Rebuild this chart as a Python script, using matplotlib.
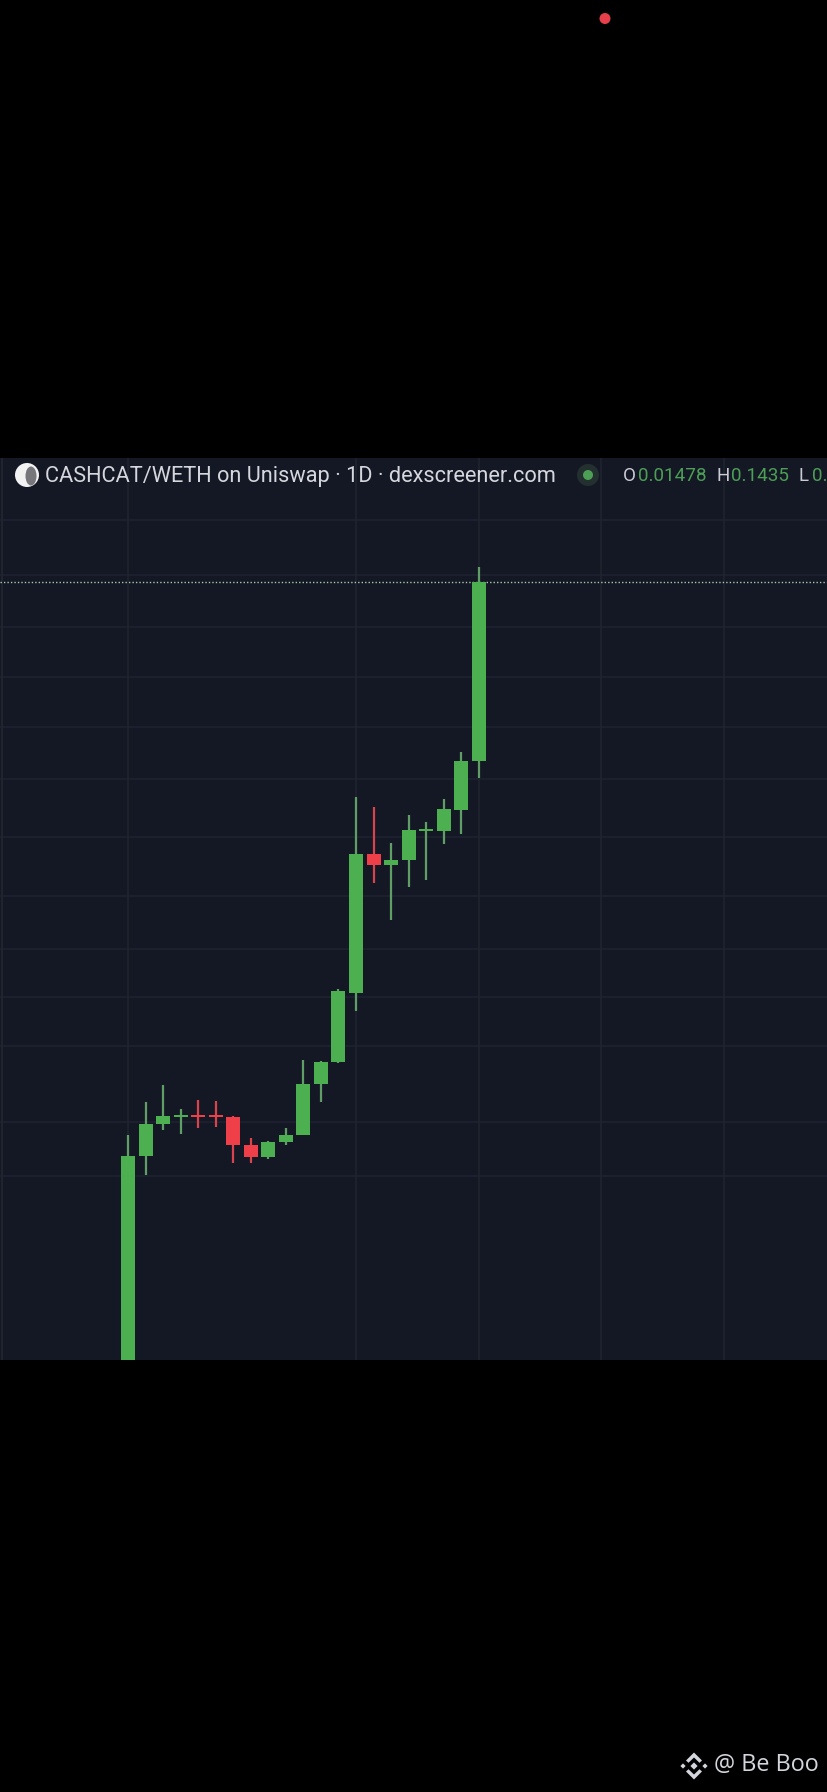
import matplotlib
matplotlib.use("Agg")
from matplotlib import pyplot as plt
from matplotlib.patches import Circle, Polygon, Ellipse

# daily candles (first bar opens below the visible range)
days = list(range(21))
opens = [8.24e-6, 1.438e-4, 2.085e-4, 2.260e-4, 2.330e-4, 2.325e-4, 2.279e-4, 1.636e-4, 1.421e-4, 1.695e-4,
         1.840e-4, 3.344e-4, 4.327e-4, 9.758e-4, 4.968e-3, 4.352e-3, 4.615e-3, 6.480e-3, 6.505e-3, 8.320e-3, 0.01478]
closes = [1.443e-4, 2.092e-4, 2.298e-4, 2.320e-4, 2.265e-4, 2.260e-4, 1.630e-4, 1.421e-4, 1.701e-4, 1.846e-4,
          3.344e-4, 4.327e-4, 9.943e-4, 4.968e-3, 4.352e-3, 4.615e-3, 6.559e-3, 6.675e-3, 8.387e-3, 0.01478, 0.1200]
highs = [1.840e-4, 2.717e-4, 3.305e-4, 2.495e-4, 2.772e-4, 2.749e-4, 2.298e-4, 1.782e-4, 1.715e-4, 1.997e-4,
         4.430e-4, 4.393e-4, 1.018e-3, 9.655e-3, 8.618e-3, 5.632e-3, 7.847e-3, 7.204e-3, 9.432e-3, 0.01636, 0.1435]
lows = [7.0e-6, 1.151e-4, 1.950e-4, 1.868e-4, 2.004e-4, 2.027e-4, 1.330e-4, 1.325e-4, 1.388e-4, 1.636e-4,
        1.829e-4, 2.717e-4, 4.30e-4, 7.865e-4, 3.524e-3, 2.285e-3, 3.363e-3, 3.651e-3, 5.567e-3, 6.282e-3, 0.01211]

price_grid = [0.248, 0.1302, 0.0708, 0.0394, 0.02193, 0.01192, 0.00604, 0.003028, 0.001626,
              9.27e-4, 5.22e-4, 2.142e-4, 1.138e-4]
day_grid = [0, 13, 20, 27, 34]
last_close = 0.12

title = "CASHCAT/WETH on Uniswap · 1D · dexscreener.com"
ohlc_labels = ["O", "H", "L"]
ohlc_values = ["0.01478", "0.1435", "0."]

green = "#4caf50"
red = "#ef3f48"
bg = "#141825"
W, H = 828, 1792

fig = plt.figure(figsize=(W / 100, H / 100), dpi=100, facecolor="black")
ax = fig.add_axes([0, (H - 1360) / H, 1, (1360 - 458) / H], facecolor=bg)
ax.set_yscale("log")
ax.set_xlim(-7.32, 39.94)
ax.set_ylim(1.317e-5, 0.5129)
for s in ax.spines.values():
    s.set_visible(False)
ax.tick_params(which="both", left=False, bottom=False, labelleft=False, labelbottom=False)

ax.hlines(price_grid, -8, 41, color="#1f2331", lw=1.1, zorder=1)
ax.vlines(day_grid, 1e-6, 1, color="#20242f", lw=1.1, zorder=1)
ax.vlines(-7.2, 1e-6, 1, color="#20242f", lw=1.5, zorder=1)
ax.axhline(last_close, color="#a9c9ad", lw=1, ls=(0, (1, 1.5)), zorder=2)

colors = [green if c >= o else red for o, c in zip(opens, closes)]
wick_colors = ["#5f9f65" if c == green else "#d8434c" for c in colors]
ax.vlines(days, lows, highs, color=wick_colors, lw=1.6, zorder=3)
ax.bar(days, [c - o for o, c in zip(opens, closes)], bottom=opens, width=0.8, color=colors, zorder=4)

# overlay in picture pixels for the header, dot and watermark
ov = fig.add_axes([0, 0, 1, 1], facecolor="none")
ov.set_xlim(0, W)
ov.set_ylim(H, 0)
ov.axis("off")

ov.add_patch(Circle((605, 18.5), 5.5, color="#e8404a", lw=0))

# avatar
ov.add_patch(Circle((27, 475), 12, color="#f2f2f2", lw=0))
ov.add_patch(Ellipse((31, 476), 11, 19, color="#77777b", lw=0))

font = "Roboto"
ov.text(45, 476.5, title, color="#d5d7dc", fontsize=15.65, family=font, va="center", ha="left")

ov.add_patch(Circle((588, 475), 11, color="#23302f", lw=0))
ov.add_patch(Circle((588, 475), 5, color="#4c9f55", lw=0))

for lx, vx, lab, val in zip([623, 717, 799], [638, 731, 812], ohlc_labels, ohlc_values):
    ov.text(lx, 476, lab, color="#c9ccd3", fontsize=13.6, family=font, va="center", ha="left")
    ov.text(vx, 476, val, color="#4c9f55", fontsize=13.6, family=font, va="center", ha="left")

# watermark
cx, cy = 694, 1766
mark = "#d3d6dc"
for dx, r in [(0, 3.6), (-11, 2.6), (11, 2.6)]:
    ov.add_patch(Polygon([(cx + dx - r, cy), (cx + dx, cy - r), (cx + dx + r, cy), (cx + dx, cy + r)], color=mark, lw=0))
for sgn in [-1, 1]:
    ov.add_patch(Polygon([(cx - 8, cy + sgn * 5.5), (cx, cy + sgn * 13.5), (cx + 8, cy + sgn * 5.5),
                          (cx + 5.5, cy + sgn * 3.2), (cx, cy + sgn * 8.5), (cx - 5.5, cy + sgn * 3.2)],
                         color=mark, lw=0))
ov.text(714, 1765, "@ Be Boo", color=mark, fontsize=16.9, family="Open Sans", va="center", ha="left")

fig.savefig("out.png", dpi=100, facecolor="black")
